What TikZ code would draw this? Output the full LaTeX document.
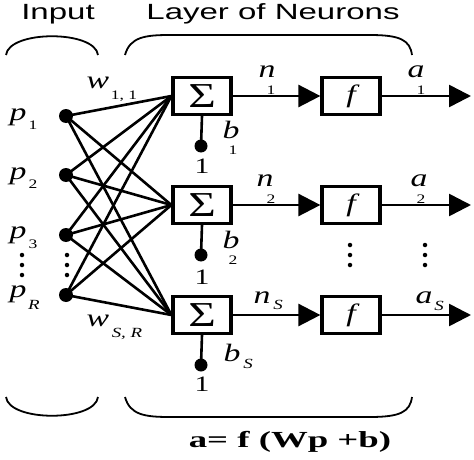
\documentclass[tikz,border=0pt]{standalone}
\usepackage{fontspec}
\setmainfont{Liberation Serif}[FakeStretch=1.35]
\setsansfont{Liberation Sans}[FakeStretch=1.5]
\newfontfamily\formfont{Liberation Serif}[FakeStretch=1.6]
\usetikzlibrary{arrows.meta}
\begin{document}
\begin{tikzpicture}[x=1pt,y=-1pt,
  box/.style={draw, line width=3.2pt, minimum width=58pt, minimum height=37pt, inner sep=0pt},
  wire/.style={line width=2.6pt},
  arr/.style={line width=2.6pt, -{Triangle[length=22pt,width=22pt]}},
  dot/.style={circle, fill, inner sep=0pt, minimum size=14pt},
  bdot/.style={circle, fill, inner sep=0pt, minimum size=13pt},
  sdot/.style={circle, fill, inner sep=0pt, minimum size=4.5pt},
  lab/.style={inner sep=0pt, font=\fontsize{25}{25}\selectfont\itshape},
  sub/.style={inner sep=0pt, font=\fontsize{13}{13}\selectfont},
  subi/.style={inner sep=0pt, font=\fontsize{14}{14}\selectfont\itshape},
  one/.style={inner sep=0pt, font=\fontsize{22}{22}\selectfont},
  title/.style={inner sep=0pt, font=\sffamily\fontsize{22}{22}\selectfont},
  brace/.style={line width=1.8pt}
]
\useasboundingbox (0,0) rectangle (474,460);

% titles
\node[title] (tin) at (58,14) {Input};
\node[title] (tlay) at (273,14) {Layer of Neurons};

% braces (top)
\draw[brace] (6,55) .. controls (9,30) and (95,30) .. (98,55);
\draw[brace] (125,55) .. controls (130,37) and (145,35) .. (170,35) -- (370,35) .. controls (400,35) and (410,40) .. (412,55);
% braces (bottom)
\draw[brace] (6,397) .. controls (9,422) and (95,422) .. (98,397);
\draw[brace] (125,397) .. controls (130,415) and (145,417) .. (170,417) -- (370,417) .. controls (400,417) and (410,412) .. (412,397);

% inputs
\node[dot] (p1) at (66,116) {};
\node[dot] (p2) at (66,175) {};
\node[dot] (p3) at (66,235) {};
\node[dot] (pR) at (66,295) {};

\node[lab] (lp1) at (18,117) {p};
\node[sub] (lp1s) at (33,125) {1};
\node[lab] (lp2) at (18,176) {p};
\node[sub] (lp2s) at (33,184) {2};
\node[lab] (lp3) at (18,235) {p};
\node[sub] (lp3s) at (33,244) {3};
\node[lab] (lpR) at (18,294) {p};
\node[subi] (lpRs) at (34,305) {R};

% vertical dots
\foreach \x/\n in {22/a,67/b}{
    \node[sdot] (vd\n1) at (\x,255) {};
    \node[sdot] (vd\n2) at (\x,265) {};
    \node[sdot] (vd\n3) at (\x,275) {};
}
\foreach \x/\n in {350/c,425/d}{
    \node[sdot] (vd\n1) at (\x,245) {};
    \node[sdot] (vd\n2) at (\x,255) {};
    \node[sdot] (vd\n3) at (\x,265) {};
}

% sum boxes
\node[box, font=\fontsize{35}{35}\selectfont] (s1) at (202,96) {Σ};
\node[box, font=\fontsize{35}{35}\selectfont] (s2) at (202,205) {Σ};
\node[box, font=\fontsize{35}{35}\selectfont] (s3) at (202,315) {Σ};

% f boxes
\node[box, lab] (f1) at (351,96) {f};
\node[box, lab] (f2) at (351,205) {f};
\node[box, lab] (f3) at (351,315) {f};

% weights
\foreach \p in {p1,p2,p3,pR}{
  \foreach \s in {s1,s2,s3}{
    \draw[wire] (\p.center) -- (\s.west);
  }
}

% arrows
\coordinate (o1) at (471,96);
\coordinate (o2) at (471,205);
\coordinate (o3) at (471,315);
\foreach \i in {1,2,3}{
  \draw[arr] (s\i.east) -- (f\i.west);
  \draw[arr] (f\i.east) -- (o\i);
}

% biases
\node[bdot] (bd1) at (201,146) {};
\node[bdot] (bd2) at (201,255) {};
\node[bdot] (bd3) at (201,365) {};
\foreach \i in {1,2,3}{
  \draw[wire] (s\i.south) -- (bd\i.center);
}
\node[one] (one1) at (202,166) {1};
\node[one] (one2) at (202,277) {1};
\node[one] (one3) at (202,384) {1};

\node[lab] (lb1) at (231,130) {b};
\node[sub] (lb1s) at (233,150) {1};
\node[lab] (lb2) at (231,240) {b};
\node[sub] (lb2s) at (233,260) {2};
\node[lab] (lb3) at (232,353) {b};
\node[subi] (lb3s) at (248,364) {S};

% n labels
\node[lab] (ln1) at (267,72) {n};
\node[sub] (ln1s) at (271,90) {1};
\node[lab] (ln2) at (265,181) {n};
\node[sub] (ln2s) at (271,199) {2};
\node[lab] (ln3) at (262,298) {n};
\node[subi] (ln3s) at (278,305) {S};

% a labels
\node[lab] (la1) at (416,72) {a};
\node[sub] (la1s) at (421,90) {1};
\node[lab] (la2) at (419,181) {a};
\node[sub] (la2s) at (421,199) {2};
\node[lab] (la3) at (424,298) {a};
\node[subi] (la3s) at (439,306) {S};

% weight labels
\node[lab] (lw11) at (98,83) {w};
\node[sub] (lw11s) at (124,96) {1, 1};
\node[lab] (lwSR) at (98,321) {w};
\node[subi] (lwSRs) at (127,334) {S, R};

% formula
\node[inner sep=0pt, font=\formfont\fontsize{23}{23}\selectfont\bfseries] (form) at (290,442) {a= f (Wp +b)};
\end{tikzpicture}
\end{document}
